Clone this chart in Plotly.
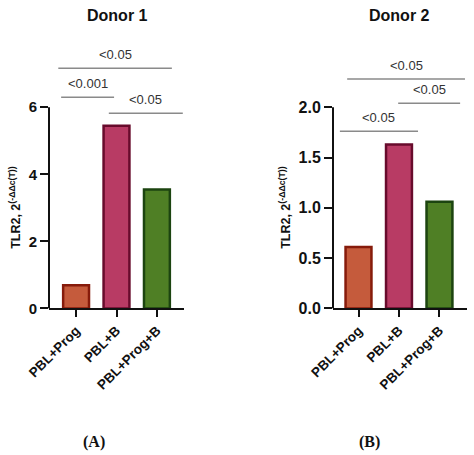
import plotly.graph_objects as go

categories = ["PBL+Prog", "PBL+B", "PBL+Prog+B"]
donor1_values = [0.69, 5.45, 3.55]
donor2_values = [0.61, 1.63, 1.06]
donor1_ticks = [0, 2, 4, 6]
donor1_ticktext = ["0", "2", "4", "6"]
donor2_ticks = [0, 0.5, 1.0, 1.5, 2.0]
donor2_ticktext = ["0.0", "0.5", "1.0", "1.5", "2.0"]
donor1_pvals = ["<0.05", "<0.001", "<0.05"]
donor2_pvals = ["<0.05", "<0.05", "<0.05"]

# significance bracket layout (x start, x end, y level) in data units
donor1_brackets = [(-0.44, 2.37, 7.16), (-0.37, 0.94, 6.30), (0.81, 2.64, 5.82)]
donor2_brackets = [(-0.28, 2.63, 2.28), (0.98, 2.51, 2.04), (-0.46, 1.47, 1.76)]

fills = ["#C55B3C", "#B83B64", "#4F7F25"]
lines = ["#861B0B", "#680B2C", "#1C4410"]

W, H = 474, 455
fig = go.Figure()

fig.add_trace(go.Bar(x=categories, y=donor1_values, xaxis="x", yaxis="y",
                     marker=dict(color=fills, line=dict(color=lines, width=2.5)),
                     width=0.64, showlegend=False, hoverinfo="skip"))
fig.add_trace(go.Bar(x=categories, y=donor2_values, xaxis="x2", yaxis="y2",
                     marker=dict(color=fills, line=dict(color=lines, width=2.5)),
                     width=0.64, showlegend=False, hoverinfo="skip"))

ydom = [0.322, 0.875]
tickfont1 = dict(family="Liberation Sans, Arial", size=15, color="#111", weight="bold")
tickfont2 = dict(family="Liberation Sans, Arial", size=16, color="#111", weight="bold")
xtickfont = dict(family="Liberation Sans, Arial", size=13.5, color="#111", weight="bold")

common_x = dict(showline=True, linewidth=2, linecolor="#111", ticks="outside", ticklen=7,
                tickwidth=2, tickcolor="#111", tickangle=-45, tickfont=xtickfont,
                showgrid=False, zeroline=False, fixedrange=True, automargin=False)
common_y = dict(showline=False, ticks="outside", ticklen=8, tickwidth=2, tickcolor="#111",
                showgrid=False, zeroline=False, automargin=False, fixedrange=True)

fig.update_layout(
    template="none",
    width=W, height=H, margin=dict(l=0, r=0, t=0, b=0, pad=0, autoexpand=False),
    paper_bgcolor="white", plot_bgcolor="white", bargap=0.36,
    xaxis=dict(domain=[49 / W, 184 / W], range=[-0.67, 2.67], anchor="y", **common_x),
    yaxis=dict(domain=ydom, range=[0, 7.5], anchor="x", tickvals=donor1_ticks,
               ticktext=donor1_ticktext, tickfont=tickfont1, **common_y),
    xaxis2=dict(domain=[333 / W, 467 / W], range=[-0.63, 2.68], anchor="y2", **common_x),
    yaxis2=dict(domain=ydom, range=[0, 2.5], anchor="x2", tickvals=donor2_ticks,
                ticktext=donor2_ticktext, tickfont=tickfont2, **common_y),
)

shapes = []
annotations = []
# y axis lines up to top tick
shapes.append(dict(type="line", xref="x domain", yref="y", x0=0, x1=0,
                   y0=donor1_ticks[0], y1=donor1_ticks[-1], line=dict(color="#111", width=2)))
shapes.append(dict(type="line", xref="x2 domain", yref="y2", x0=0, x1=0,
                   y0=donor2_ticks[0], y1=donor2_ticks[-1], line=dict(color="#111", width=2)))

for (xr, yr, brackets, pvals) in [("x", "y", donor1_brackets, donor1_pvals),
                                  ("x2", "y2", donor2_brackets, donor2_pvals)]:
    for (x0, x1, yl), p in zip(brackets, pvals):
        shapes.append(dict(type="line", xref=xr, yref=yr, x0=x0, x1=x1, y0=yl, y1=yl,
                           line=dict(color="#8a8a8a", width=1.5)))
        annotations.append(dict(xref=xr, yref=yr, x=(x0 + x1) / 2, y=yl,
                                text=p.replace("<", "&lt;"), showarrow=False,
                                xanchor="center", yanchor="bottom", yshift=4,
                                font=dict(family="Liberation Sans, Arial", size=13, color="#333")))

title_font = dict(family="Liberation Sans, Arial", size=16, color="#111", weight="bold")
annotations.append(dict(xref="paper", yref="paper", x=117 / W, y=1 - 16 / H, text="Donor 1",
                        xanchor="center", yanchor="middle", showarrow=False, font=title_font))
annotations.append(dict(xref="paper", yref="paper", x=399 / W, y=1 - 16 / H, text="Donor 2",
                        xanchor="center", yanchor="middle", showarrow=False, font=title_font))

ytitle = "TLR2, 2<sup>(-ΔΔc(T))</sup>"
ytfont = dict(family="Liberation Sans, Arial", size=12.5, color="#111", weight="bold")
annotations.append(dict(xref="paper", yref="y", x=15 / W, y=donor1_ticks[-1] / 2, text=ytitle,
                        xanchor="center", yanchor="middle",
                        textangle=-90, showarrow=False, font=ytfont))
annotations.append(dict(xref="paper", yref="y2", x=285 / W, y=donor2_ticks[-1] / 2, text=ytitle,
                        xanchor="center", yanchor="middle",
                        textangle=-90, showarrow=False, font=ytfont))

pfont = dict(family="Liberation Serif, Times New Roman", size=16, color="#111", weight="bold")
annotations.append(dict(xref="paper", yref="paper", x=94 / W, y=1 - 442 / H, text="(A)",
                        xanchor="center", yanchor="middle", showarrow=False, font=pfont))
annotations.append(dict(xref="paper", yref="paper", x=369 / W, y=1 - 442 / H, text="(B)",
                        xanchor="center", yanchor="middle", showarrow=False, font=pfont))

fig.update_layout(shapes=shapes, annotations=annotations)
fig.write_html("out.html", config={"displayModeBar": False},
               post_script="document.body.style.margin='0px';")
